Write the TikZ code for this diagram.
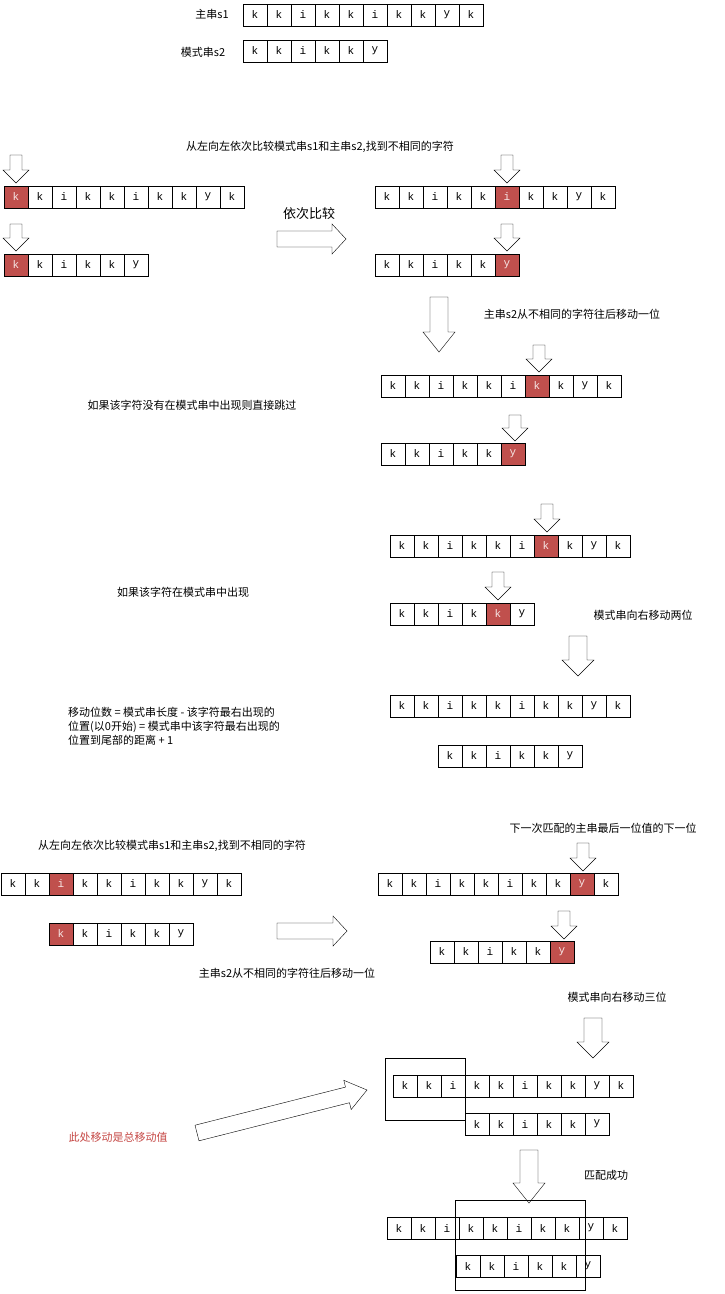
\documentclass[tikz,border=0pt]{standalone}
\usepackage{fontspec}
\setmonofont{Liberation Mono}
\newfontfamily\cjk{Noto Sans CJK SC}
\definecolor{hl}{HTML}{C0504D}
\begin{document}
\begin{tikzpicture}[x=1pt,y=-1pt,
  cell/.style={draw,minimum width=24pt,minimum height=22pt,inner sep=0pt,font=\ttfamily\fontsize{11}{11}\selectfont},
  cellhl/.style={cell,fill=hl,text=white!85!hl},
  lbl/.style={font=\cjk\fontsize{11}{14}\selectfont,inner sep=0pt}]
\useasboundingbox[fill=white] (0,0) rectangle (725,1294);
\newcommand\crow[4]{\foreach \c [count=\i] in #3 {\ifnum\i=#4 \node[cellhl] at ({#1+(\i-0.5)*24},{#2+11}) {\c};\else \node[cell] at ({#1+(\i-0.5)*24},{#2+11}) {\c};\fi}}
\newcommand\dar[6]{\draw[fill=white] ({#1-#4},#2) -- ({#1+#4},#2) -- ({#1+#4},{#3-#6}) -- ({#1+#5},{#3-#6}) -- (#1,#3) -- ({#1-#5},{#3-#6}) -- ({#1-#4},{#3-#6}) -- cycle;}
\newcommand\rar[6]{\draw[fill=white] (#1,{#3-#4}) -- ({#2-#6},{#3-#4}) -- ({#2-#6},{#3-#5}) -- (#2,#3) -- ({#2-#6},{#3+#5}) -- ({#2-#6},{#3+#4}) -- (#1,{#3+#4}) -- cycle;}
\def\sa{k,k,i,k,k,i,k,k,y,k}
\def\sb{k,k,i,k,k,y}
% top
\node[lbl] (t1) at (212,14) {主串s1};
\crow{243}{4}{\sa}{0}
\node[lbl] (t2) at (203,52) {模式串s2};
\crow{243}{40}{\sb}{0}
% block 1
\node[lbl] (t3) at (320,147) {从左向左依次比较模式串s1和主串s2,找到不相同的字符};
\dar{16}{155}{183}{6}{13}{13}
\crow{4}{186}{\sa}{1}
\dar{16}{224}{251}{6}{13}{13}
\crow{4}{254}{\sb}{1}
\node[lbl,font=\cjk\fontsize{13}{15}\selectfont] (t4) at (309,214) {依次比较};
\rar{277}{346}{239}{8}{15}{14}
\dar{507}{155}{183}{6}{13}{13}
\crow{375}{186}{\sa}{6}
\dar{507}{224}{251}{6}{13}{13}
\crow{375}{254}{\sb}{6}
\dar{439}{297}{352}{9}{16}{20}
\node[lbl] (t5) at (572,314) {主串s2从不相同的字符往后移动一位};
% block 2
\dar{539}{345}{372}{6}{13}{13}
\crow{381}{375}{\sa}{7}
\dar{515}{415}{441}{6}{13}{13}
\crow{381}{443}{\sb}{6}
\node[lbl] (t6) at (192,405) {如果该字符没有在模式串中出现则直接跳过};
% block 3
\dar{547}{504}{532}{6}{13}{13}
\crow{390}{535}{\sa}{7}
\dar{498}{572}{600}{6}{13}{13}
\crow{390}{603}{\sb}{5}
\node[lbl] (t7) at (183,592) {如果该字符在模式串中出现};
\node[lbl] (t8) at (643,615) {模式串向右移动两位};
\dar{578}{636}{676}{9}{16}{16}
\crow{390}{695}{\sa}{0}
\crow{438}{745}{\sb}{0}
\node[lbl,align=left,anchor=north west] (t9) at (68,707) {移动位数 = 模式串长度 - 该字符最右出现的\\位置(以0开始) = 模式串中该字符最右出现的\\位置到尾部的距离 + 1};
% block 4
\node[lbl] (t10) at (603,828) {下一次匹配的主串最后一位值的下一位};
\node[lbl] (t11) at (172,846) {从左向左依次比较模式串s1和主串s2,找到不相同的字符};
\crow{1}{873}{\sa}{3}
\crow{49}{923}{\sb}{1}
\rar{277}{347}{931}{8}{15}{14}
\dar{583}{843}{871}{6}{13}{13}
\crow{378}{873}{\sa}{9}
\dar{564}{911}{939}{6}{13}{13}
\crow{430}{941}{\sb}{6}
\node[lbl] (t12) at (287,973) {主串s2从不相同的字符往后移动一位};
\node[lbl] (t13) at (617,997) {模式串向右移动三位};
\dar{593}{1018}{1058}{9}{16}{16}
\crow{393}{1075}{\sa}{0}
\draw (385,1058) rectangle (465,1120);
\crow{465}{1113}{\sb}{0}
\draw[fill=white] (195,1125.2) -- (345.5,1087.1) -- (343.8,1080.3) -- (367,1090) -- (351.2,1109.5) -- (349.5,1102.7) -- (199,1140.8) -- cycle;
\node[lbl,text=hl!90!red] (t14) at (118,1137) {此处移动是总移动值};
\dar{529}{1150}{1203}{9}{16}{20}
\node[lbl] (t15) at (606,1175) {匹配成功};
\crow{387}{1217}{\sa}{0}
\draw (455,1200) rectangle (585,1290);
\crow{456}{1255}{\sb}{0}
\end{tikzpicture}
\end{document}
